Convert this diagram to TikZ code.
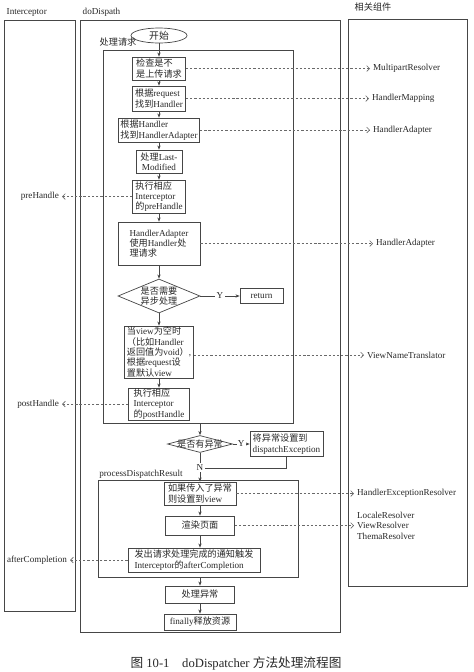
\documentclass[tikz,border=0pt]{standalone}
\usepackage{fontspec}
\setmainfont{Liberation Serif}
\newfontfamily\cjkfont{Noto Sans CJK SC}
\usepackage{tikz}
\usepackage{xcolor}
\usetikzlibrary{arrows.meta, positioning, shapes.geometric}
\definecolor{linecol}{RGB}{70,70,70}
\definecolor{textcol}{RGB}{40,40,40}
\definecolor{dashcol}{RGB}{105,105,105}
\newcommand\hz[1]{{\cjkfont #1}}
\newcommand\nowidth[1]{\makebox[0pt]{#1}}
\tikzset{
  wh/.style 2 args={minimum width=#1*0.025cm,minimum height=#2*0.025cm},
  lanebox/.style={rectangle,draw=linecol,line width=0.5pt,inner sep=0pt},
  stepbox/.style={rectangle,draw=linecol,line width=0.5pt,inner xsep=1.5pt,inner ysep=0.5pt,align=left,text=textcol,font=\fontsize{6.5}{7.3}\selectfont},
  startnode/.style={ellipse,draw=linecol,line width=0.5pt,inner sep=0pt,text=textcol,font=\fontsize{7}{8}\selectfont},
  decision/.style={diamond,draw=linecol,line width=0.5pt,inner sep=0pt,align=center,text=textcol,font=\fontsize{6.5}{7.3}\selectfont},
  complabel/.style={inner sep=2pt,align=left,text=textcol,font=\fontsize{6.5}{7.5}\selectfont},
  flow/.style={-{Stealth[length=3pt,width=2.4pt]},linecol,line width=0.5pt},
  plainline/.style={linecol,line width=0.5pt},
  uses/.style={-{Straight Barb[length=2pt,width=4pt]},dashcol,line width=0.5pt,dash pattern=on 1.6pt off 1.4pt},
  ynlabel/.style={fill=white,inner sep=1pt,text=textcol,font=\fontsize{6.5}{7.5}\selectfont},
}
\begin{document}
\begin{tikzpicture}[x=0.025cm,y=-0.025cm]
  \useasboundingbox[fill=white] (0,0) rectangle (474,672);
  % swim lanes
  \node[lanebox,wh={71}{591},label={[complabel,anchor=south west]north west:Interceptor}] (ilane) at (39.5,315.5) {};
  \node[lanebox,wh={260}{612},label={[complabel,anchor=south west]north west:doDispath}] (dlane) at (210,326) {};
  \node[lanebox,wh={119}{567},label={[complabel,anchor=south west,xshift=0.1cm,yshift=0.12cm]north west:\hz{相关组件}}] (rlane) at (407.5,302.5) {};
  % groups inside doDispath
  \node[lanebox,wh={190}{373},label={[complabel,anchor=south west,xshift=-0.15cm]north west:\hz{处理请求}}] (req) at (198,236.5) {};
  \node[lanebox,wh={200}{97},label={[complabel,anchor=south west,inner sep=1pt]north west:processDispatchResult}] (pdr) at (198,528.5) {};
  % request steps
  \node[startnode,wh={56}{15}] (start) at (159,35.5) {\hz{开始}};
  \node[stepbox,wh={53}{23}] (b1) at (159,68.5) {\hz{检查是不}\\\hz{是上传请求}};
  \node[stepbox,wh={53}{25}] (b2) at (159,98.5) {\hz{根据}request\\\hz{找到}Handler};
  \node[stepbox,wh={77}{24}] (b3) at (159,130) {\hz{根据}Handler\\\hz{找到}HandlerAdapter};
  \node[stepbox,wh={46}{23},align=center] (b4) at (159,161.5) {\hz{处理}Last-\\Modified};
  \node[stepbox,wh={53}{33}] (b5) at (159,196.5) {\hz{执行相应}\\Interceptor\\\hz{的}preHandle};
  \node[stepbox,wh={82}{43}] (b6) at (159,243.5) {HandlerAdapter\\\hz{使用}Handler\hz{处}\\\hz{理请求}};
  \node[decision,wh={82}{34}] (d1) at (159,296) {\nowidth{\hz{是否需要}}\\\nowidth{\hz{异步处理}}};
  \node[stepbox,wh={43}{15},align=center] (ret) at (261.5,296) {return};
  \node[stepbox,wh={66}{52}] (b7) at (159,352) {\hz{当}view\hz{为空时}\\\hz{（比如}Handler\\\hz{返回值为}void\hz{）},\\\hz{根据}request\hz{设}\\\hz{置默认}view};
  \node[stepbox,wh={61}{32}] (b8) at (159,404) {\hz{执行相应}\\Interceptor\\\hz{的}postHandle};
  % exception check and result
  \node[decision,wh={65}{17}] (d2) at (200,444) {\nowidth{\hz{是否有异常}}};
  \node[stepbox,wh={73}{25}] (exc) at (286.5,444) {\hz{将异常设置到}\\dispatchException};
  \node[stepbox,wh={72}{23}] (b9) at (200,493.5) {\hz{如果传入了异常}\\\hz{则设置到}view};
  \node[stepbox,wh={69}{19},align=center] (b10) at (200,525.5) {\hz{渲染页面}};
  \node[stepbox,wh={132}{24}] (b11) at (194,560) {\hz{发出请求处理完成的通知触发}\\Interceptor\hz{的}afterCompletion};
  \node[stepbox,wh={69}{17},align=center] (b12) at (200,594.5) {\hz{处理异常}};
  \node[stepbox,wh={72}{16},align=center] (b13) at (200,622) {finally\hz{释放资源}};
  \coordinate (nj) at (200,468);
  % main flow
  \draw[flow] (start.south)--(b1.north);
  \draw[flow] (b1.south)--(b2.north);
  \draw[flow] (b2.south)--(b3.north);
  \draw[flow] (b3.south)--(b4.north);
  \draw[flow] (b4.south)--(b5.north);
  \draw[flow] (b5.south)--(b6.north);
  \draw[flow] (b6.south)--(d1.north);
  \draw[flow] (d1.east)-- node[ynlabel]{Y} (ret.west);
  \draw[flow] (d1.south)--(b7.north);
  \draw[flow] (b7.south)--(b8.north);
  \draw[flow] (d2.north |- req.south)--(d2.north);
  \draw[flow] (d2.east)-- node[ynlabel]{Y} (exc.west);
  \draw[plainline] (exc.south) |- (nj);
  \draw[flow] (d2.south)-- node[ynlabel,pos=0.5]{N} (b9.north);
  \draw[flow] (b9.south)--(b10.north);
  \draw[flow] (b10.south)--(b10.south |- b11.north);
  \draw[flow] (b12.north |- pdr.south)--(b12.north);
  \draw[flow] (b12.south)--(b13.north);
  % interceptor callbacks
  \node[complabel,anchor=east] (pre) at (62,196.5) {preHandle};
  \node[complabel,anchor=east] (post) at (62,404) {postHandle};
  \node[complabel,anchor=east] (aft) at (70,560) {afterCompletion};
  \draw[uses] (b5.west)--(pre.east);
  \draw[uses] (b8.west)--(post.east);
  \draw[uses] (b11.west)--(aft.east);
  % related components
  \node[complabel,anchor=west] (mpr) at (370,68.5) {MultipartResolver};
  \node[complabel,anchor=west] (hm) at (369,98.5) {HandlerMapping};
  \node[complabel,anchor=west] (ha) at (370,130) {HandlerAdapter};
  \node[complabel,anchor=west] (ha2) at (373,243.5) {HandlerAdapter};
  \node[complabel,anchor=west] (vnt) at (364,355) {ViewNameTranslator};
  \node[complabel,anchor=west] (her) at (354,493.5) {HandlerExceptionResolver};
  \node[complabel,anchor=west] (lvt) at (354,525.5) {LocaleResolver\\ViewResolver\\ThemaResolver};
  \draw[uses] (b1.east)--(mpr.west);
  \draw[uses] (b2.east)--(hm.west);
  \draw[uses] (b3.east)--(ha.west);
  \draw[uses] (b6.east)--(ha2.west);
  \draw[uses] (b7.east |- vnt.west)--(vnt.west);
  \draw[uses] (b9.east)--(her.west);
  \draw[uses] (b10.east)--(lvt.west);
  % caption
  \node[text=textcol,font=\fontsize{9}{10}\selectfont] (caption) at (236,663) {\hz{图} 10-1\quad doDispatcher \hz{方法处理流程图}};
\end{tikzpicture}
\end{document}
